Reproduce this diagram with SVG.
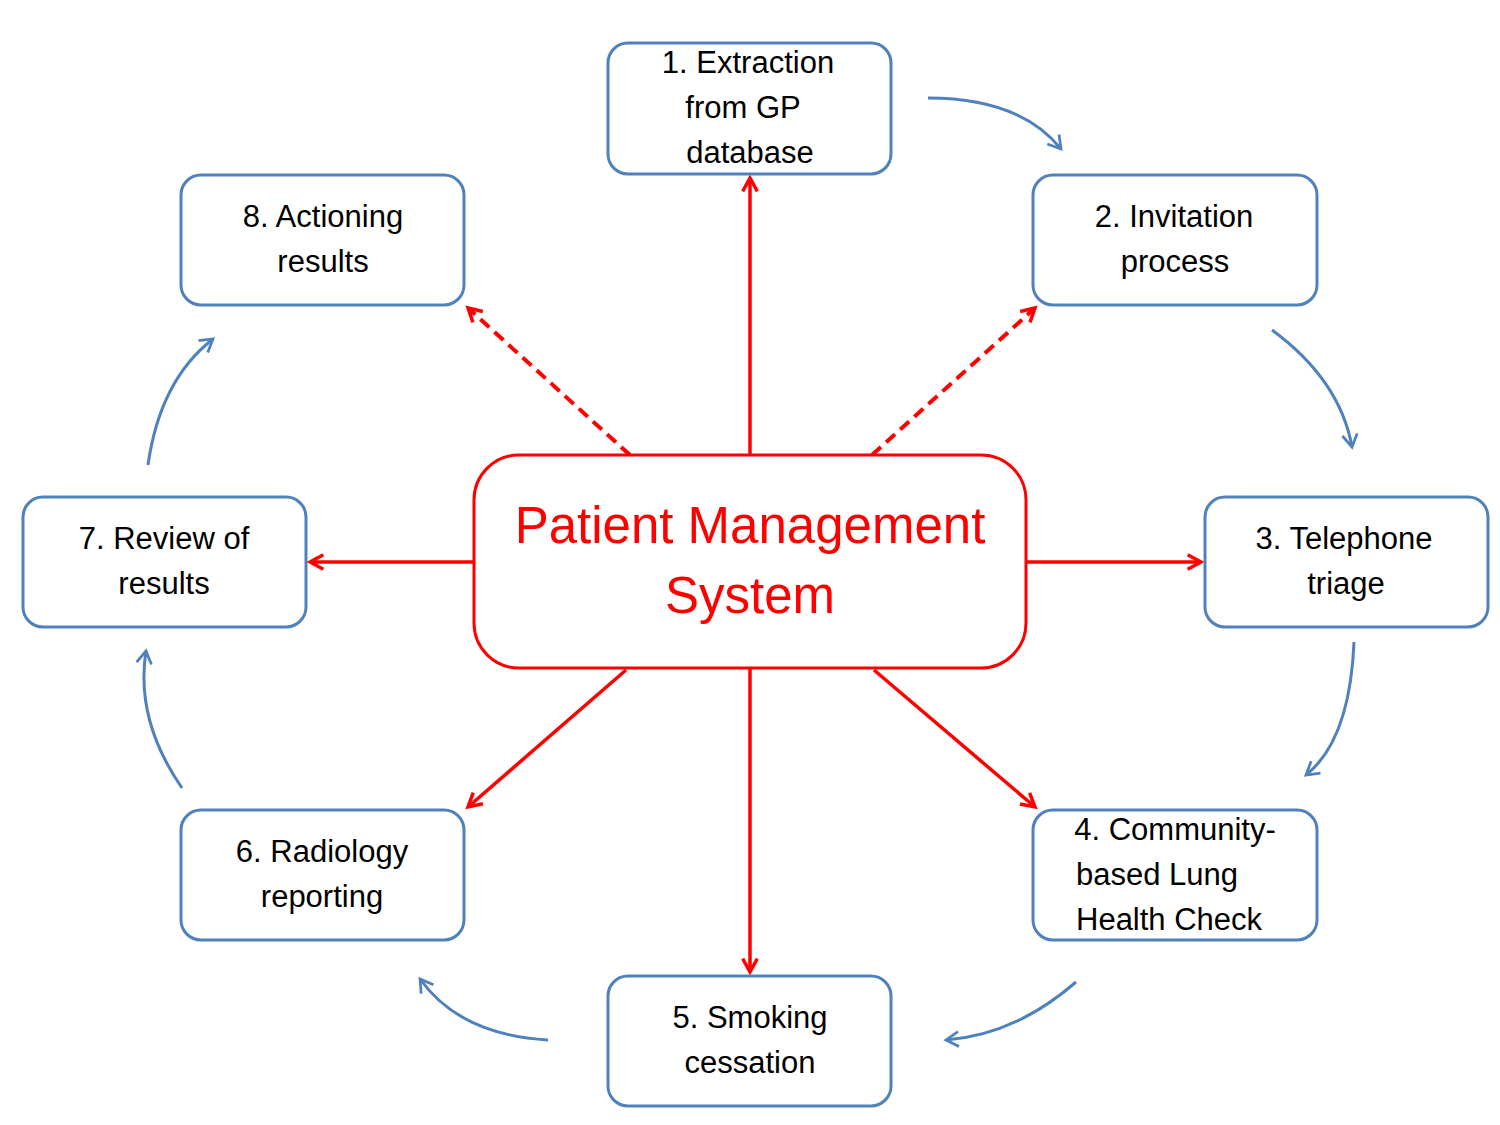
<svg xmlns="http://www.w3.org/2000/svg" width="1500" height="1125" viewBox="0 0 1500 1125">
<defs>
<style>
.node rect{fill:#fff;stroke:#4F81BD;stroke-width:3}
.node text{font-family:"Liberation Sans",Arial,sans-serif;font-size:31px;fill:#000;text-anchor:middle}
.center rect{fill:#fff;stroke:#FF0000;stroke-width:3}
.center text{font-family:"Liberation Sans",Arial,sans-serif;font-size:51px;fill:#FF0000;text-anchor:middle}
.red{stroke:#FF0000;stroke-width:3.5;fill:none;marker-end:url(#ra)}
.dash{stroke-dasharray:12 7;stroke-width:4}
.blue{stroke:#4F81BD;stroke-width:3;fill:none;marker-end:url(#ba)}
</style>
<marker id="ra" viewBox="0 0 12 12" refX="11" refY="6" markerWidth="16" markerHeight="16" orient="auto" markerUnits="userSpaceOnUse" style="overflow:visible">
<path d="M1,0.5 L11,6 L1,11.5" fill="none" stroke="#FF0000" stroke-width="2.6" stroke-linejoin="miter"/>
</marker>
<marker id="ba" viewBox="0 0 12 12" refX="11" refY="6" markerWidth="15" markerHeight="15" orient="auto" markerUnits="userSpaceOnUse" style="overflow:visible">
<path d="M1,0 L11,6 L1,12" fill="none" stroke="#4F81BD" stroke-width="2.2"/>
</marker>
</defs>
<rect width="1500" height="1125" fill="#fff"/>
<g id="connectors">
<path class="red" d="M750,455 L750,178"/>
<path class="red" d="M750,668 L750,972"/>
<path class="red" d="M1026,562 L1201,562"/>
<path class="red" d="M474,562 L310,562"/>
<path class="red dash" d="M630,455 L468,308"/>
<path class="red dash" d="M872,455 L1035,308"/>
<path class="red" d="M626,670 L468,807"/>
<path class="red" d="M874,670 L1035,807"/>
<path class="blue" d="M928,98 Q1020,98 1061,149"/>
<path class="blue" d="M1272,330 Q1340,380 1352,447"/>
<path class="blue" d="M1354,642 Q1350,740 1306,775"/>
<path class="blue" d="M1076,982 Q1015,1035 946,1040"/>
<path class="blue" d="M548,1040 Q460,1035 420,979"/>
<path class="blue" d="M182,788 Q135,720 146,651"/>
<path class="blue" d="M148,465 Q160,380 213,339"/>
</g>
<g id="center" class="center">
<rect x="474" y="455" width="552" height="213" rx="45"/>
<text x="750" y="543">Patient Management</text>
<text x="750" y="613">System</text>
</g>
<g id="n1" class="node">
<rect x="608" y="43" width="283" height="131" rx="20"/>
<text x="748" y="73">1. Extraction</text>
<text x="743" y="118">from GP</text>
<text x="750" y="163">database</text>
</g>
<g id="n2" class="node">
<rect x="1033" y="175" width="284" height="130" rx="20"/>
<text x="1174" y="227">2. Invitation</text>
<text x="1175" y="272">process</text>
</g>
<g id="n3" class="node">
<rect x="1205" y="497" width="283" height="130" rx="20"/>
<text x="1344" y="549">3. Telephone</text>
<text x="1346" y="594">triage</text>
</g>
<g id="n4" class="node">
<rect x="1033" y="810" width="284" height="130" rx="20"/>
<text x="1175" y="840">4. Community-</text>
<text x="1076" y="885" style="text-anchor:start">based Lung</text>
<text x="1076" y="930" style="text-anchor:start">Health Check</text>
</g>
<g id="n5" class="node">
<rect x="608" y="976" width="283" height="130" rx="20"/>
<text x="750" y="1028">5. Smoking</text>
<text x="750" y="1073">cessation</text>
</g>
<g id="n6" class="node">
<rect x="181" y="810" width="283" height="130" rx="20"/>
<text x="322" y="862">6. Radiology</text>
<text x="322" y="907">reporting</text>
</g>
<g id="n7" class="node">
<rect x="23" y="497" width="283" height="130" rx="20"/>
<text x="164" y="549">7. Review of</text>
<text x="164" y="594">results</text>
</g>
<g id="n8" class="node">
<rect x="181" y="175" width="283" height="130" rx="20"/>
<text x="323" y="227">8. Actioning</text>
<text x="323" y="272">results</text>
</g>
</svg>
